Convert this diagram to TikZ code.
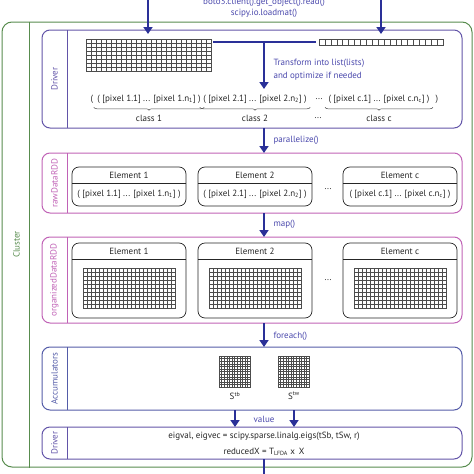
\documentclass[tikz,border=0pt]{standalone}
\usepackage{fontspec}
\setmainfont{PT Sans}
\usetikzlibrary{arrows.meta,decorations.pathreplacing}

\definecolor{clustergreen}{RGB}{88,140,78}
\definecolor{drivercol}{RGB}{98,84,168}
\definecolor{rddcol}{RGB}{192,98,182}
\definecolor{acccol}{RGB}{84,92,168}
\definecolor{arrowcol}{RGB}{42,48,152}
\definecolor{labelcol}{RGB}{74,72,172}

\tikzset{
  stage/.style={draw=#1, line width=1pt, rounded corners=8pt, minimum width=420pt, inner sep=0pt, outer sep=0pt},
  element/.style={draw=black!85, line width=0.7pt, rounded corners=7pt, minimum width=114pt, inner sep=0pt, outer sep=0pt},
  gridline/.style={draw=black!70, line width=0.35pt},
  flow/.style={draw=arrowcol, line width=2.4pt, -{Triangle[length=7pt,width=9pt]}},
  steplabel/.style={text=labelcol, anchor=west},
  stagename/.style={rotate=90, text=#1},
  classbrace/.style={decorate, decoration={brace, mirror, amplitude=3pt}, draw=black!70, line width=0.5pt},
}

% #1,#2 top left corner, #3 columns, #4 rows, #5 cell width, #6 cell height
\newcommand{\pixgrid}[6]{%
  \draw[gridline] (#1,#2) rectangle ({#1+#3*#5},{#2+#4*#6});
  \foreach \gc in {1,...,#3}{\draw[gridline] ({#1+\gc*#5},#2) -- ++(0,{#4*#6});}
  \foreach \gr in {1,...,#4}{\draw[gridline] (#1,{#2+\gr*#6}) -- ++({#3*#5},0);}
}

\begin{document}
\begin{tikzpicture}[x=1pt, y=-1pt,
    every node/.style={font=\fontsize{9}{10}\selectfont, text=black!85}]
  \useasboundingbox (0,0) rectangle (474,474);
  \coordinate (mid) at (264,0);

  % cluster frame
  \node[draw=clustergreen, line width=1pt, rounded corners=10pt, minimum width=470pt,
    minimum height=445pt, inner sep=0pt] (cluster) at (237,244.5) {};
  \draw[clustergreen, line width=1pt] ([xshift=28pt]cluster.north west) -- ([xshift=28pt]cluster.south west);
  \node[stagename=clustergreen] at ([xshift=15pt]cluster.west) {Cluster};

  % stages
  \node[stage=drivercol, minimum height=98pt] (drv1) at (252,79) {};
  \node[stage=rddcol, minimum height=60pt] (raw) at (252,183) {};
  \node[stage=rddcol, minimum height=86pt] (org) at (252,280) {};
  \node[stage=acccol, minimum height=63pt] (acc) at (252,378.5) {};
  \node[stage=drivercol, minimum height=32pt] (drv2) at (252,443) {};
  \foreach \s/\col/\name in {drv1/drivercol/Driver, raw/rddcol/rawDataRDD,
      org/rddcol/organizedDataRDD, acc/acccol/Accumulators, drv2/drivercol/Driver}{
    \draw[\col, line width=1pt] ([xshift=25pt]\s.north west) -- ([xshift=25pt]\s.south west);
    \node[stagename=\col] at ([xshift=12.5pt]\s.west) {\name};
  }

  % input
  \node[text=labelcol, align=center, font=\fontsize{9}{11}\selectfont] (src) at (264,8)
    {boto3.client().get\_object().read()\\scipy.io.loadmat()};
  \coordinate (srcA) at (148,-2);
  \coordinate (srcB) at (381,-2);
  \coordinate (matA) at (148,34);
  \coordinate (rowB) at (381,34);
  \draw[flow] (srcA) -- (matA);
  \draw[flow] (srcB) -- (rowB);

  % driver: matrices
  \pixgrid{86}{39}{25}{8}{5}{4}
  \pixgrid{319}{39}{21}{1}{5.9}{6}
  \coordinate (joinL) at (213,42);
  \coordinate (joinR) at (316,42);
  \coordinate (join) at (264,42);
  \coordinate (rows) at (264,89);
  \draw[arrowcol, line width=2.4pt] (joinL) -- (joinR);
  \draw[flow] (join) -- (rows);
  \node[steplabel, align=left, font=\fontsize{9}{13}\selectfont] (trf) at (270,69.5)
    {Transform into list(lists)\\and optimize if needed};

  \node (open) at (92,99) {(};
  \node (cls1) at (149,99) {( [pixel 1.1] ... [pixel 1.n\textsubscript{1}] )};
  \node (cls2) at (255,99) {( [pixel 2.1] ... [pixel 2.n\textsubscript{2}] )};
  \node (dots) at (319,99) {...};
  \node (clsc) at (379,99) {( [pixel c.1] ... [pixel c.n\textsubscript{c}] )};
  \node (close) at (437,99) {)};
  \foreach \k in {cls1, cls2, clsc}{
    \draw[classbrace] ([yshift=-0.5pt]\k.south west) -- ([yshift=-0.5pt]\k.south east);
  }
  \node at (149,118) {class 1};
  \node at (255,118) {class 2};
  \node at (318,118) {...};
  \node at (379,118) {class c};

  \draw[flow] (drv1.south -| mid) -- (raw.north -| mid);
  \node[steplabel] at (270,140) {parallelize()};

  % rawDataRDD
  \foreach \n/\x in {1/129, 2/255, c/400}{
    \node[element, minimum height=39pt] (re\n) at (\x,186.5) {};
    \draw[black!85, line width=0.7pt] ([yshift=-16pt]re\n.north west) -- ([yshift=-16pt]re\n.north east);
    \node at ([yshift=-8pt]re\n.north) {Element \n};
    \node at ([yshift=-27.5pt]re\n.north) {( [pixel \n.1] ... [pixel \n.n\textsubscript{\n}] )};
  }
  \node at (328,189) {...};

  \draw[flow] (raw.south -| mid) -- (org.north -| mid);
  \node[steplabel] at (270,224) {map()};

  % organizedDataRDD
  \foreach \n/\x in {1/129, 2/255, c/400}{
    \node[element, minimum height=75pt] (oe\n) at (\x,280.5) {};
    \draw[black!85, line width=0.7pt] ([yshift=-16pt]oe\n.north west) -- ([yshift=-16pt]oe\n.north east);
    \node at ([yshift=-8pt]oe\n.north) {Element \n};
    \pixgrid{\x-46}{268}{23}{10}{4}{4}
  }
  \node at (328,280) {...};

  \draw[flow] (org.south -| mid) -- (acc.north -| mid);
  \node[steplabel] at (270,336) {foreach()};

  % accumulators
  \pixgrid{219}{356}{12}{12}{2.6}{2.6}
  \pixgrid{278}{356}{12}{12}{2.6}{2.6}
  \node (sb) at (235,396) {S\textsuperscript{tb}};
  \node (sw) at (294,396) {S\textsuperscript{tw}};
  \draw[flow] (acc.south -| sb) -- (drv2.north -| sb);
  \draw[flow] (acc.south -| sw) -- (drv2.north -| sw);
  \node[text=labelcol] (val) at (264,419) {value};

  % driver: eigen decomposition
  \node (eig) at (264,436) {eigval, eigvec = scipy.sparse.linalg.eigs(tSb, tSw, r)};
  \node (red) at (264,452) {reducedX = T\textsubscript{LFDA} x\, X};
  \coordinate (out) at (264,482);
  \draw[flow] (drv2.south -| mid) -- (out);
\end{tikzpicture}
\end{document}
